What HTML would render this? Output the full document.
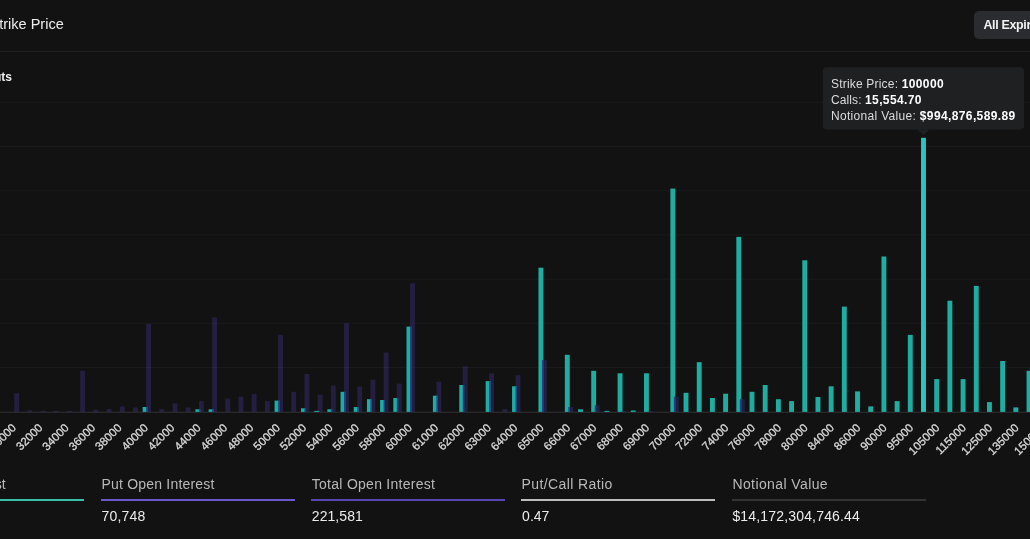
<!DOCTYPE html>
<html><head><meta charset="utf-8"><title>Open Interest By Strike Price</title>
<style>
html,body{margin:0;padding:0;background:#121212;}
body{width:1030px;height:539px;overflow:hidden;position:relative;font-family:"Liberation Sans",sans-serif;color:#eee;}
.abs{position:absolute;white-space:nowrap;}
#title{right:966.3px;top:13.5px;font-size:14.5px;line-height:20px;color:#ededed;}
#hdiv{left:0;top:51px;width:1030px;height:1px;background:#1f1f1f;}
#btn{left:974px;top:11px;width:80px;height:28px;border-radius:5px;background:#2a2c2f;}
#btnt{left:983.4px;top:15px;font-size:12.5px;letter-spacing:-0.35px;font-weight:bold;line-height:20px;color:#f2f2f2;}
#legend{right:1018px;top:69px;font-size:12px;font-weight:bold;line-height:16px;color:#f0f0f0;}
svg{position:absolute;left:0;top:0;}
svg text{font-family:"Liberation Sans",sans-serif;}
.tl{left:831px;font-size:12px;line-height:15px;color:#dcdcdc;letter-spacing:0.22px;}
.tl b{color:#fff;letter-spacing:0.38px;}
.stat-l{top:474px;font-size:14px;line-height:20px;color:#b9b9b9;}
.stat-v{top:506px;font-size:14px;line-height:20px;color:#ececec;}
.stat-b{top:499px;height:2px;width:194px;}
#w{position:absolute;left:0;top:0;width:1030px;height:539px;overflow:hidden;will-change:transform;}
</style></head><body><div id="w">
<div class="abs" id="title">Open Interest By Strike Price</div>
<div class="abs" id="hdiv"></div>
<div class="abs" id="btn"></div><div class="abs" id="btnt">All Expirations</div>
<div class="abs" id="legend">Puts</div>
<svg width="1030" height="539" viewBox="0 0 1030 539">
<rect x="0" y="101.8" width="1030" height="1" fill="#1b1b1b"/>
<rect x="0" y="146.0" width="1030" height="1" fill="#1b1b1b"/>
<rect x="0" y="190.2" width="1030" height="1" fill="#1b1b1b"/>
<rect x="0" y="234.4" width="1030" height="1" fill="#1b1b1b"/>
<rect x="0" y="278.6" width="1030" height="1" fill="#1b1b1b"/>
<rect x="0" y="322.8" width="1030" height="1" fill="#1b1b1b"/>
<rect x="0" y="367.0" width="1030" height="1" fill="#1b1b1b"/>
<rect x="0" y="411.7" width="1030" height="1" fill="#333335"/>
<rect x="142.65" y="407.0" width="4.9" height="4.9" fill="#1fada2"/>
<rect x="195.42" y="409.3" width="4.9" height="2.6" fill="#1fada2"/>
<rect x="208.62" y="409.3" width="4.9" height="2.6" fill="#1fada2"/>
<rect x="274.58" y="400.6" width="4.9" height="11.3" fill="#1fada2"/>
<rect x="300.97" y="408.3" width="4.9" height="3.6" fill="#1fada2"/>
<rect x="314.16" y="410.9" width="4.9" height="1.0" fill="#1fada2"/>
<rect x="327.35" y="409.3" width="4.9" height="2.6" fill="#1fada2"/>
<rect x="340.55" y="391.8" width="4.9" height="20.1" fill="#1fada2"/>
<rect x="353.74" y="407.0" width="4.9" height="4.9" fill="#1fada2"/>
<rect x="366.93" y="399.2" width="4.9" height="12.7" fill="#1fada2"/>
<rect x="380.12" y="400.0" width="4.9" height="11.9" fill="#1fada2"/>
<rect x="393.32" y="398.0" width="4.9" height="13.9" fill="#1fada2"/>
<rect x="406.51" y="326.6" width="4.9" height="85.3" fill="#1fada2"/>
<rect x="432.90" y="395.7" width="4.9" height="16.2" fill="#1fada2"/>
<rect x="459.28" y="385.0" width="4.9" height="26.9" fill="#1fada2"/>
<rect x="485.67" y="381.1" width="4.9" height="30.8" fill="#1fada2"/>
<rect x="512.05" y="386.3" width="4.9" height="25.6" fill="#1fada2"/>
<rect x="538.44" y="267.7" width="4.9" height="144.2" fill="#1fada2"/>
<rect x="564.83" y="354.8" width="4.9" height="57.1" fill="#1fada2"/>
<rect x="578.02" y="409.3" width="4.9" height="2.6" fill="#1fada2"/>
<rect x="591.21" y="370.8" width="4.9" height="41.1" fill="#1fada2"/>
<rect x="604.40" y="410.9" width="4.9" height="1.0" fill="#1fada2"/>
<rect x="617.60" y="373.3" width="4.9" height="38.6" fill="#1fada2"/>
<rect x="630.79" y="410.5" width="4.9" height="1.4" fill="#1fada2"/>
<rect x="643.98" y="373.3" width="4.9" height="38.6" fill="#1fada2"/>
<rect x="670.37" y="188.6" width="4.9" height="223.3" fill="#1fada2"/>
<rect x="683.56" y="392.8" width="4.9" height="19.1" fill="#1fada2"/>
<rect x="696.76" y="362.2" width="4.9" height="49.7" fill="#1fada2"/>
<rect x="709.95" y="398.0" width="4.9" height="13.9" fill="#1fada2"/>
<rect x="723.14" y="393.7" width="4.9" height="18.2" fill="#1fada2"/>
<rect x="736.33" y="236.9" width="4.9" height="175.0" fill="#1fada2"/>
<rect x="749.53" y="391.8" width="4.9" height="20.1" fill="#1fada2"/>
<rect x="762.72" y="385.0" width="4.9" height="26.9" fill="#1fada2"/>
<rect x="775.91" y="399.2" width="4.9" height="12.7" fill="#1fada2"/>
<rect x="789.11" y="401.1" width="4.9" height="10.8" fill="#1fada2"/>
<rect x="802.30" y="260.3" width="4.9" height="151.6" fill="#1fada2"/>
<rect x="815.49" y="397.0" width="4.9" height="14.9" fill="#1fada2"/>
<rect x="828.69" y="386.3" width="4.9" height="25.6" fill="#1fada2"/>
<rect x="841.88" y="306.6" width="4.9" height="105.3" fill="#1fada2"/>
<rect x="855.07" y="391.4" width="4.9" height="20.5" fill="#1fada2"/>
<rect x="868.26" y="406.4" width="4.9" height="5.5" fill="#1fada2"/>
<rect x="881.46" y="256.5" width="4.9" height="155.4" fill="#1fada2"/>
<rect x="894.65" y="401.1" width="4.9" height="10.8" fill="#1fada2"/>
<rect x="907.84" y="334.9" width="4.9" height="77.0" fill="#1fada2"/>
<rect x="921.04" y="137.8" width="4.9" height="274.1" fill="#2cc5bd"/>
<rect x="934.23" y="379.1" width="4.9" height="32.8" fill="#1fada2"/>
<rect x="947.42" y="300.7" width="4.9" height="111.2" fill="#1fada2"/>
<rect x="960.62" y="379.1" width="4.9" height="32.8" fill="#1fada2"/>
<rect x="973.81" y="285.9" width="4.9" height="126.0" fill="#1fada2"/>
<rect x="987.00" y="402.1" width="4.9" height="9.8" fill="#1fada2"/>
<rect x="1000.19" y="361.0" width="4.9" height="50.9" fill="#1fada2"/>
<rect x="1013.39" y="407.4" width="4.9" height="4.5" fill="#1fada2"/>
<rect x="1026.58" y="370.8" width="4.9" height="41.1" fill="#1fada2"/>
<rect x="14.22" y="393.2" width="4.9" height="18.7" fill="#5a45c8" fill-opacity="0.26"/>
<rect x="27.41" y="410.3" width="4.9" height="1.6" fill="#5a45c8" fill-opacity="0.26"/>
<rect x="40.61" y="410.8" width="4.9" height="1.1" fill="#5a45c8" fill-opacity="0.26"/>
<rect x="53.80" y="410.8" width="4.9" height="1.1" fill="#5a45c8" fill-opacity="0.26"/>
<rect x="66.99" y="410.8" width="4.9" height="1.1" fill="#5a45c8" fill-opacity="0.26"/>
<rect x="80.19" y="370.8" width="4.9" height="41.1" fill="#5a45c8" fill-opacity="0.26"/>
<rect x="93.38" y="409.7" width="4.9" height="2.2" fill="#5a45c8" fill-opacity="0.26"/>
<rect x="106.57" y="409.0" width="4.9" height="2.9" fill="#5a45c8" fill-opacity="0.26"/>
<rect x="119.76" y="406.4" width="4.9" height="5.5" fill="#5a45c8" fill-opacity="0.26"/>
<rect x="132.96" y="407.4" width="4.9" height="4.5" fill="#5a45c8" fill-opacity="0.26"/>
<rect x="146.15" y="324.0" width="4.9" height="87.9" fill="#5a45c8" fill-opacity="0.26"/>
<rect x="159.34" y="409.0" width="4.9" height="2.9" fill="#5a45c8" fill-opacity="0.26"/>
<rect x="172.54" y="403.5" width="4.9" height="8.4" fill="#5a45c8" fill-opacity="0.26"/>
<rect x="185.73" y="407.4" width="4.9" height="4.5" fill="#5a45c8" fill-opacity="0.26"/>
<rect x="198.92" y="401.1" width="4.9" height="10.8" fill="#5a45c8" fill-opacity="0.26"/>
<rect x="212.12" y="317.4" width="4.9" height="94.5" fill="#5a45c8" fill-opacity="0.26"/>
<rect x="225.31" y="398.6" width="4.9" height="13.3" fill="#5a45c8" fill-opacity="0.26"/>
<rect x="238.50" y="396.7" width="4.9" height="15.2" fill="#5a45c8" fill-opacity="0.26"/>
<rect x="251.69" y="394.1" width="4.9" height="17.8" fill="#5a45c8" fill-opacity="0.26"/>
<rect x="264.89" y="401.1" width="4.9" height="10.8" fill="#5a45c8" fill-opacity="0.26"/>
<rect x="278.08" y="334.9" width="4.9" height="77.0" fill="#5a45c8" fill-opacity="0.26"/>
<rect x="291.27" y="391.8" width="4.9" height="20.1" fill="#5a45c8" fill-opacity="0.26"/>
<rect x="304.47" y="373.9" width="4.9" height="38.0" fill="#5a45c8" fill-opacity="0.26"/>
<rect x="317.66" y="394.7" width="4.9" height="17.2" fill="#5a45c8" fill-opacity="0.26"/>
<rect x="330.85" y="385.6" width="4.9" height="26.3" fill="#5a45c8" fill-opacity="0.26"/>
<rect x="344.05" y="323.2" width="4.9" height="88.7" fill="#5a45c8" fill-opacity="0.26"/>
<rect x="357.24" y="386.5" width="4.9" height="25.4" fill="#5a45c8" fill-opacity="0.26"/>
<rect x="370.43" y="379.7" width="4.9" height="32.2" fill="#5a45c8" fill-opacity="0.26"/>
<rect x="383.62" y="352.5" width="4.9" height="59.4" fill="#5a45c8" fill-opacity="0.26"/>
<rect x="396.82" y="383.6" width="4.9" height="28.3" fill="#5a45c8" fill-opacity="0.26"/>
<rect x="410.01" y="283.3" width="4.9" height="128.6" fill="#5a45c8" fill-opacity="0.26"/>
<rect x="436.40" y="381.7" width="4.9" height="30.2" fill="#5a45c8" fill-opacity="0.26"/>
<rect x="462.78" y="366.5" width="4.9" height="45.4" fill="#5a45c8" fill-opacity="0.26"/>
<rect x="489.17" y="373.3" width="4.9" height="38.6" fill="#5a45c8" fill-opacity="0.26"/>
<rect x="502.36" y="409.0" width="4.9" height="2.9" fill="#5a45c8" fill-opacity="0.26"/>
<rect x="515.55" y="375.2" width="4.9" height="36.7" fill="#5a45c8" fill-opacity="0.26"/>
<rect x="541.94" y="360.2" width="4.9" height="51.7" fill="#5a45c8" fill-opacity="0.26"/>
<rect x="568.33" y="407.0" width="4.9" height="4.9" fill="#5a45c8" fill-opacity="0.26"/>
<rect x="594.71" y="405.4" width="4.9" height="6.5" fill="#5a45c8" fill-opacity="0.26"/>
<rect x="621.10" y="410.8" width="4.9" height="1.1" fill="#5a45c8" fill-opacity="0.26"/>
<rect x="647.48" y="410.8" width="4.9" height="1.1" fill="#5a45c8" fill-opacity="0.26"/>
<rect x="673.87" y="396.7" width="4.9" height="15.2" fill="#5a45c8" fill-opacity="0.26"/>
<rect x="739.83" y="399.2" width="4.9" height="12.7" fill="#5a45c8" fill-opacity="0.26"/>
<rect x="146.15" y="407.0" width="1.40" height="4.9" fill="#162f78" fill-opacity="0.75"/>
<rect x="198.92" y="409.3" width="1.40" height="2.6" fill="#162f78" fill-opacity="0.75"/>
<rect x="212.12" y="409.3" width="1.40" height="2.6" fill="#162f78" fill-opacity="0.75"/>
<rect x="278.08" y="400.6" width="1.40" height="11.3" fill="#162f78" fill-opacity="0.75"/>
<rect x="304.47" y="408.3" width="1.40" height="3.6" fill="#162f78" fill-opacity="0.75"/>
<rect x="330.85" y="409.3" width="1.40" height="2.6" fill="#162f78" fill-opacity="0.75"/>
<rect x="344.05" y="391.8" width="1.40" height="20.1" fill="#162f78" fill-opacity="0.75"/>
<rect x="357.24" y="407.0" width="1.40" height="4.9" fill="#162f78" fill-opacity="0.75"/>
<rect x="370.43" y="399.2" width="1.40" height="12.7" fill="#162f78" fill-opacity="0.75"/>
<rect x="383.62" y="400.0" width="1.40" height="11.9" fill="#162f78" fill-opacity="0.75"/>
<rect x="396.82" y="398.0" width="1.40" height="13.9" fill="#162f78" fill-opacity="0.75"/>
<rect x="410.01" y="326.6" width="1.40" height="85.3" fill="#162f78" fill-opacity="0.75"/>
<rect x="436.40" y="395.7" width="1.40" height="16.2" fill="#162f78" fill-opacity="0.75"/>
<rect x="462.78" y="385.0" width="1.40" height="26.9" fill="#162f78" fill-opacity="0.75"/>
<rect x="489.17" y="381.1" width="1.40" height="30.8" fill="#162f78" fill-opacity="0.75"/>
<rect x="515.55" y="386.3" width="1.40" height="25.6" fill="#162f78" fill-opacity="0.75"/>
<rect x="541.94" y="360.2" width="1.40" height="51.7" fill="#162f78" fill-opacity="0.75"/>
<rect x="568.33" y="407.0" width="1.40" height="4.9" fill="#162f78" fill-opacity="0.75"/>
<rect x="594.71" y="405.4" width="1.40" height="6.5" fill="#162f78" fill-opacity="0.75"/>
<rect x="673.87" y="396.7" width="1.40" height="15.2" fill="#162f78" fill-opacity="0.75"/>
<rect x="739.83" y="399.2" width="1.40" height="12.7" fill="#162f78" fill-opacity="0.75"/>
<text x="16.87" y="428.5" text-anchor="end" transform="rotate(-45 16.87 428.5)" font-size="11.5" fill="#d8d8d8" stroke="#d8d8d8" stroke-width="0.3">30000</text>
<text x="43.26" y="428.5" text-anchor="end" transform="rotate(-45 43.26 428.5)" font-size="11.5" fill="#d8d8d8" stroke="#d8d8d8" stroke-width="0.3">32000</text>
<text x="69.64" y="428.5" text-anchor="end" transform="rotate(-45 69.64 428.5)" font-size="11.5" fill="#d8d8d8" stroke="#d8d8d8" stroke-width="0.3">34000</text>
<text x="96.03" y="428.5" text-anchor="end" transform="rotate(-45 96.03 428.5)" font-size="11.5" fill="#d8d8d8" stroke="#d8d8d8" stroke-width="0.3">36000</text>
<text x="122.41" y="428.5" text-anchor="end" transform="rotate(-45 122.41 428.5)" font-size="11.5" fill="#d8d8d8" stroke="#d8d8d8" stroke-width="0.3">38000</text>
<text x="148.80" y="428.5" text-anchor="end" transform="rotate(-45 148.80 428.5)" font-size="11.5" fill="#d8d8d8" stroke="#d8d8d8" stroke-width="0.3">40000</text>
<text x="175.19" y="428.5" text-anchor="end" transform="rotate(-45 175.19 428.5)" font-size="11.5" fill="#d8d8d8" stroke="#d8d8d8" stroke-width="0.3">42000</text>
<text x="201.57" y="428.5" text-anchor="end" transform="rotate(-45 201.57 428.5)" font-size="11.5" fill="#d8d8d8" stroke="#d8d8d8" stroke-width="0.3">44000</text>
<text x="227.96" y="428.5" text-anchor="end" transform="rotate(-45 227.96 428.5)" font-size="11.5" fill="#d8d8d8" stroke="#d8d8d8" stroke-width="0.3">46000</text>
<text x="254.34" y="428.5" text-anchor="end" transform="rotate(-45 254.34 428.5)" font-size="11.5" fill="#d8d8d8" stroke="#d8d8d8" stroke-width="0.3">48000</text>
<text x="280.73" y="428.5" text-anchor="end" transform="rotate(-45 280.73 428.5)" font-size="11.5" fill="#d8d8d8" stroke="#d8d8d8" stroke-width="0.3">50000</text>
<text x="307.12" y="428.5" text-anchor="end" transform="rotate(-45 307.12 428.5)" font-size="11.5" fill="#d8d8d8" stroke="#d8d8d8" stroke-width="0.3">52000</text>
<text x="333.50" y="428.5" text-anchor="end" transform="rotate(-45 333.50 428.5)" font-size="11.5" fill="#d8d8d8" stroke="#d8d8d8" stroke-width="0.3">54000</text>
<text x="359.89" y="428.5" text-anchor="end" transform="rotate(-45 359.89 428.5)" font-size="11.5" fill="#d8d8d8" stroke="#d8d8d8" stroke-width="0.3">56000</text>
<text x="386.27" y="428.5" text-anchor="end" transform="rotate(-45 386.27 428.5)" font-size="11.5" fill="#d8d8d8" stroke="#d8d8d8" stroke-width="0.3">58000</text>
<text x="412.66" y="428.5" text-anchor="end" transform="rotate(-45 412.66 428.5)" font-size="11.5" fill="#d8d8d8" stroke="#d8d8d8" stroke-width="0.3">60000</text>
<text x="439.05" y="428.5" text-anchor="end" transform="rotate(-45 439.05 428.5)" font-size="11.5" fill="#d8d8d8" stroke="#d8d8d8" stroke-width="0.3">61000</text>
<text x="465.43" y="428.5" text-anchor="end" transform="rotate(-45 465.43 428.5)" font-size="11.5" fill="#d8d8d8" stroke="#d8d8d8" stroke-width="0.3">62000</text>
<text x="491.82" y="428.5" text-anchor="end" transform="rotate(-45 491.82 428.5)" font-size="11.5" fill="#d8d8d8" stroke="#d8d8d8" stroke-width="0.3">63000</text>
<text x="518.20" y="428.5" text-anchor="end" transform="rotate(-45 518.20 428.5)" font-size="11.5" fill="#d8d8d8" stroke="#d8d8d8" stroke-width="0.3">64000</text>
<text x="544.59" y="428.5" text-anchor="end" transform="rotate(-45 544.59 428.5)" font-size="11.5" fill="#d8d8d8" stroke="#d8d8d8" stroke-width="0.3">65000</text>
<text x="570.98" y="428.5" text-anchor="end" transform="rotate(-45 570.98 428.5)" font-size="11.5" fill="#d8d8d8" stroke="#d8d8d8" stroke-width="0.3">66000</text>
<text x="597.36" y="428.5" text-anchor="end" transform="rotate(-45 597.36 428.5)" font-size="11.5" fill="#d8d8d8" stroke="#d8d8d8" stroke-width="0.3">67000</text>
<text x="623.75" y="428.5" text-anchor="end" transform="rotate(-45 623.75 428.5)" font-size="11.5" fill="#d8d8d8" stroke="#d8d8d8" stroke-width="0.3">68000</text>
<text x="650.13" y="428.5" text-anchor="end" transform="rotate(-45 650.13 428.5)" font-size="11.5" fill="#d8d8d8" stroke="#d8d8d8" stroke-width="0.3">69000</text>
<text x="676.52" y="428.5" text-anchor="end" transform="rotate(-45 676.52 428.5)" font-size="11.5" fill="#d8d8d8" stroke="#d8d8d8" stroke-width="0.3">70000</text>
<text x="702.91" y="428.5" text-anchor="end" transform="rotate(-45 702.91 428.5)" font-size="11.5" fill="#d8d8d8" stroke="#d8d8d8" stroke-width="0.3">72000</text>
<text x="729.29" y="428.5" text-anchor="end" transform="rotate(-45 729.29 428.5)" font-size="11.5" fill="#d8d8d8" stroke="#d8d8d8" stroke-width="0.3">74000</text>
<text x="755.68" y="428.5" text-anchor="end" transform="rotate(-45 755.68 428.5)" font-size="11.5" fill="#d8d8d8" stroke="#d8d8d8" stroke-width="0.3">76000</text>
<text x="782.06" y="428.5" text-anchor="end" transform="rotate(-45 782.06 428.5)" font-size="11.5" fill="#d8d8d8" stroke="#d8d8d8" stroke-width="0.3">78000</text>
<text x="808.45" y="428.5" text-anchor="end" transform="rotate(-45 808.45 428.5)" font-size="11.5" fill="#d8d8d8" stroke="#d8d8d8" stroke-width="0.3">80000</text>
<text x="834.84" y="428.5" text-anchor="end" transform="rotate(-45 834.84 428.5)" font-size="11.5" fill="#d8d8d8" stroke="#d8d8d8" stroke-width="0.3">84000</text>
<text x="861.22" y="428.5" text-anchor="end" transform="rotate(-45 861.22 428.5)" font-size="11.5" fill="#d8d8d8" stroke="#d8d8d8" stroke-width="0.3">86000</text>
<text x="887.61" y="428.5" text-anchor="end" transform="rotate(-45 887.61 428.5)" font-size="11.5" fill="#d8d8d8" stroke="#d8d8d8" stroke-width="0.3">90000</text>
<text x="913.99" y="428.5" text-anchor="end" transform="rotate(-45 913.99 428.5)" font-size="11.5" fill="#d8d8d8" stroke="#d8d8d8" stroke-width="0.3">95000</text>
<text x="940.38" y="428.5" text-anchor="end" transform="rotate(-45 940.38 428.5)" font-size="11.5" fill="#d8d8d8" stroke="#d8d8d8" stroke-width="0.3">105000</text>
<text x="966.77" y="428.5" text-anchor="end" transform="rotate(-45 966.77 428.5)" font-size="11.5" fill="#d8d8d8" stroke="#d8d8d8" stroke-width="0.3">115000</text>
<text x="993.15" y="428.5" text-anchor="end" transform="rotate(-45 993.15 428.5)" font-size="11.5" fill="#d8d8d8" stroke="#d8d8d8" stroke-width="0.3">125000</text>
<text x="1019.54" y="428.5" text-anchor="end" transform="rotate(-45 1019.54 428.5)" font-size="11.5" fill="#d8d8d8" stroke="#d8d8d8" stroke-width="0.3">135000</text>
<text x="1045.92" y="428.5" text-anchor="end" transform="rotate(-45 1045.92 428.5)" font-size="11.5" fill="#d8d8d8" stroke="#d8d8d8" stroke-width="0.3">150000</text>
<rect x="822.8" y="67.3" width="201.2" height="62.2" rx="4" fill="#1f2022"/>
<polygon points="917.5,129.4 929.5,129.4 923.5,135.3" fill="#1f2022"/>
</svg>
<div class="abs tl" style="top:77.4px;letter-spacing:0.19px">Strike Price: <b>100000</b></div>
<div class="abs tl" style="top:93px;letter-spacing:0.1px">Calls: <b>15,554.70</b></div>
<div class="abs tl" style="top:108.8px;letter-spacing:0.31px">Notional Value: <b>$994,876,589.89</b></div>

<div class="abs stat-l" style="right:1024.4px">Call Open Interest</div>
<div class="abs stat-b" style="left:-110px;background:#3cbfaa"></div>
<div class="abs stat-v" style="left:-109px">150,833</div>

<div class="abs stat-l" style="left:101.5px;letter-spacing:0.2px">Put Open Interest</div>
<div class="abs stat-b" style="left:101px;background:#6d57cc"></div>
<div class="abs stat-v" style="left:101.5px;letter-spacing:0.2px">70,748</div>

<div class="abs stat-l" style="left:311.8px;letter-spacing:0.27px">Total Open Interest</div>
<div class="abs stat-b" style="left:311px;background:#5646b2"></div>
<div class="abs stat-v" style="left:311.8px;letter-spacing:0.07px">221,581</div>

<div class="abs stat-l" style="left:521.6px;letter-spacing:0.4px">Put/Call Ratio</div>
<div class="abs stat-b" style="left:521.4px;background:#bdbdbd"></div>
<div class="abs stat-v" style="left:522.1px">0.47</div>

<div class="abs stat-l" style="left:732.4px;letter-spacing:0.4px">Notional Value</div>
<div class="abs stat-b" style="left:731.6px;background:#333"></div>
<div class="abs stat-v" style="left:732.4px;letter-spacing:0.17px">$14,172,304,746.44</div>
</div></body></html>
